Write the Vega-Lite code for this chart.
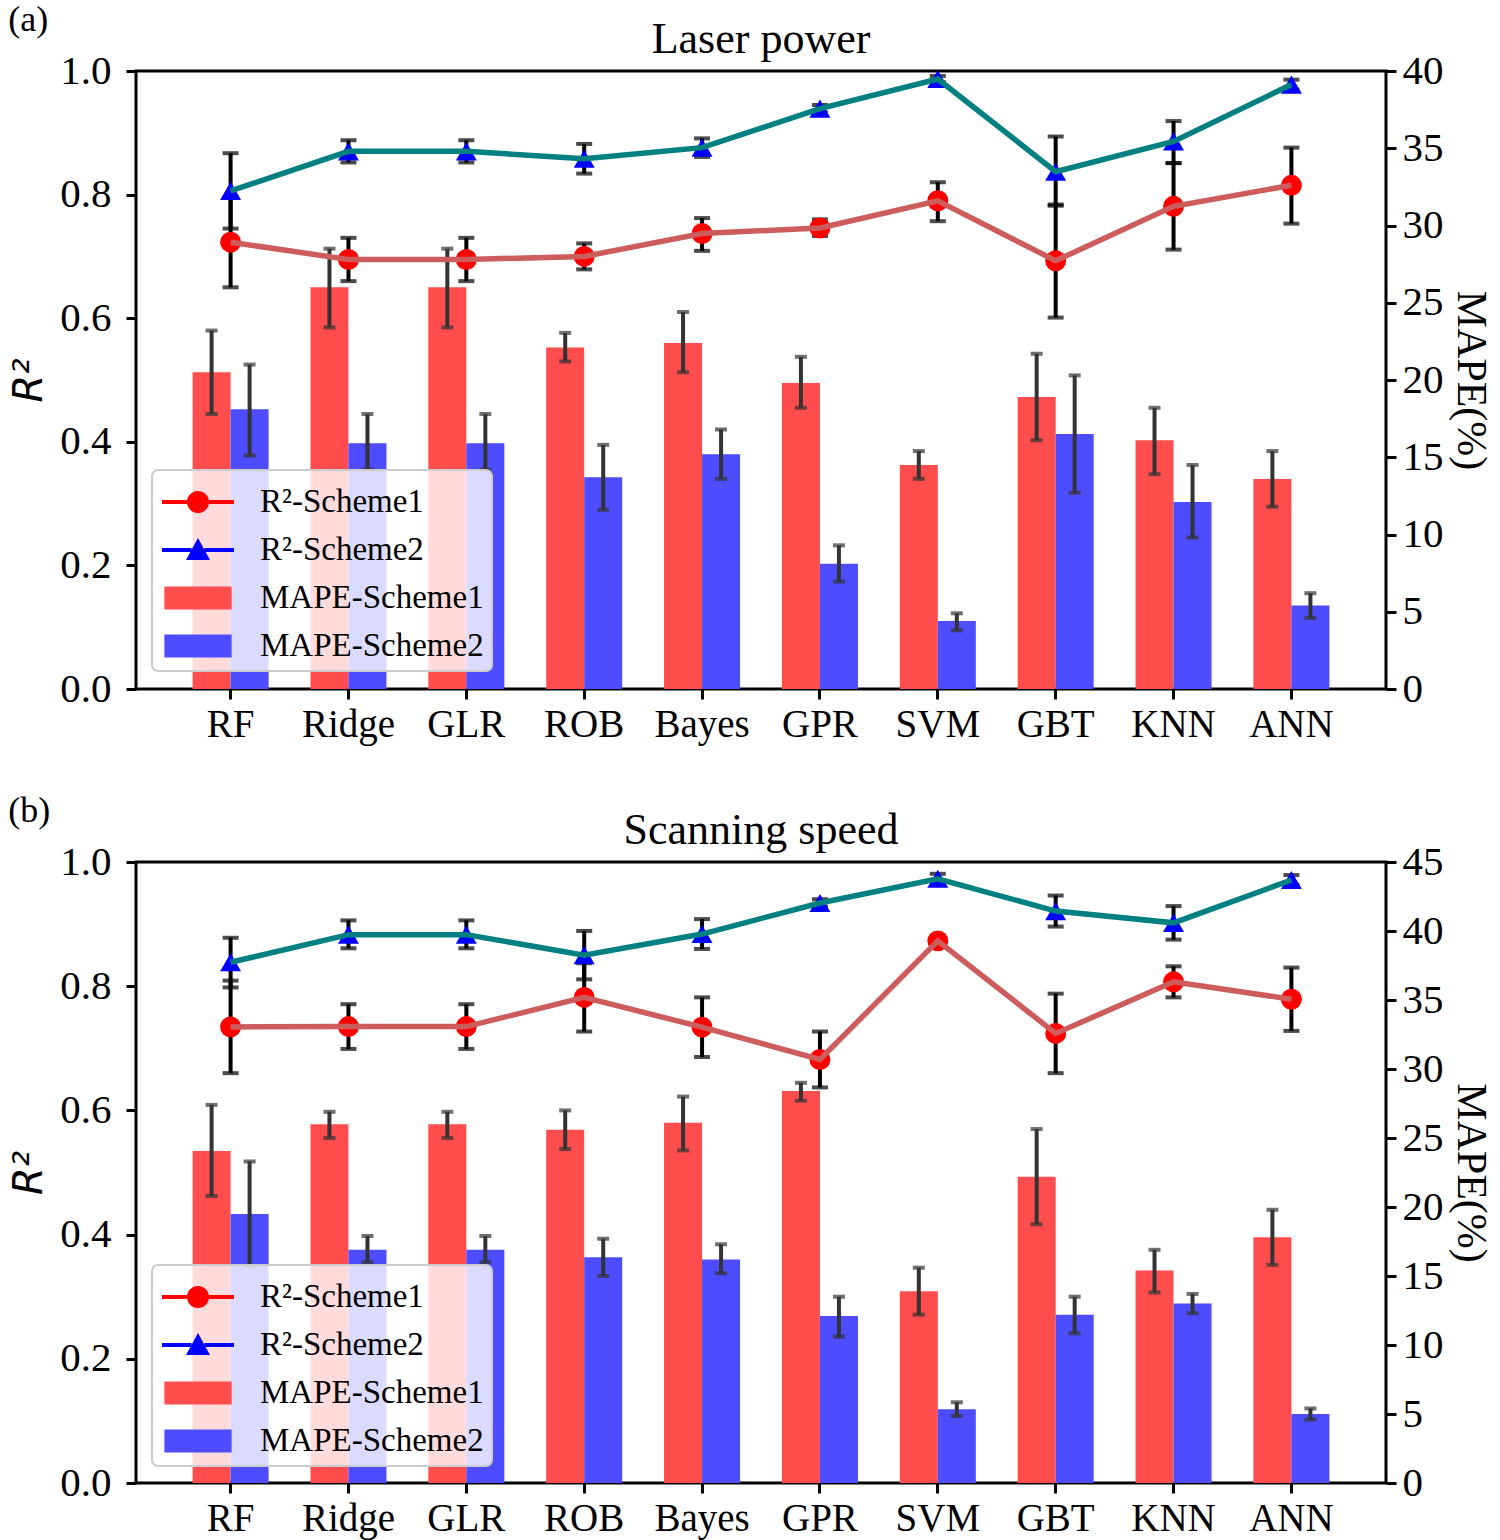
{
  "$schema": "https://vega.github.io/schema/vega-lite/v6.json",
  "background": "white",
  "padding": {"left": 8, "top": 1, "right": 0, "bottom": 0},
  "config": {
    "view": {"stroke": "black", "strokeWidth": 3},
    "font": "Liberation Serif",
    "axis": {"labelFont": "Liberation Serif", "labelFontSize": 39, "labelColor": "black", "tickColor": "black", "tickWidth": 3, "tickSize": 10, "labelPadding": 6, "grid": false, "domain": false, "titleFont": "Liberation Serif", "titleFontWeight": "normal", "titleColor": "black", "labelOverlap": false},
    "title": {"font": "Liberation Serif", "fontSize": 44, "fontWeight": "normal", "color": "black"},
    "legend": {
      "title": null, "orient": "none", "legendX": 16, "legendY": 399,
      "labelFont": "Liberation Serif", "labelFontSize": 33, "labelColor": "black", "labelLimit": 400,
      "symbolSize": 2304, "symbolStrokeWidth": 0, "symbolOpacity": 1, "symbolOffset": 14,
      "fillColor": "rgba(255,255,255,0.8)", "strokeColor": "#cccccc", "strokeWidth": 2, "cornerRadius": 6,
      "padding": 8, "rowPadding": 7, "labelOffset": 38
    }
  },
  "datasets": {
    "a": [
      {"model":"RF","scheme":"S1","r":"R²-Scheme1","m":"MAPE-Scheme1","r2":0.723,"r2lo":0.650,"r2hi":0.796,"mape":20.5,"mlo":17.8,"mhi":23.2},
      {"model":"RF","scheme":"S2","r":"R²-Scheme2","m":"MAPE-Scheme2","r2":0.806,"r2lo":0.745,"r2hi":0.867,"mape":18.1,"mlo":15.1,"mhi":21.0},
      {"model":"Ridge","scheme":"S1","r":"R²-Scheme1","m":"MAPE-Scheme1","r2":0.695,"r2lo":0.660,"r2hi":0.730,"mape":26.0,"mlo":23.4,"mhi":28.5},
      {"model":"Ridge","scheme":"S2","r":"R²-Scheme2","m":"MAPE-Scheme2","r2":0.870,"r2lo":0.852,"r2hi":0.888,"mape":15.9,"mlo":14.2,"mhi":17.8},
      {"model":"GLR","scheme":"S1","r":"R²-Scheme1","m":"MAPE-Scheme1","r2":0.695,"r2lo":0.660,"r2hi":0.730,"mape":26.0,"mlo":23.4,"mhi":28.5},
      {"model":"GLR","scheme":"S2","r":"R²-Scheme2","m":"MAPE-Scheme2","r2":0.870,"r2lo":0.852,"r2hi":0.888,"mape":15.9,"mlo":14.2,"mhi":17.8},
      {"model":"ROB","scheme":"S1","r":"R²-Scheme1","m":"MAPE-Scheme1","r2":0.700,"r2lo":0.679,"r2hi":0.721,"mape":22.1,"mlo":21.2,"mhi":23.05},
      {"model":"ROB","scheme":"S2","r":"R²-Scheme2","m":"MAPE-Scheme2","r2":0.858,"r2lo":0.834,"r2hi":0.882,"mape":13.7,"mlo":11.6,"mhi":15.8},
      {"model":"Bayes","scheme":"S1","r":"R²-Scheme1","m":"MAPE-Scheme1","r2":0.737,"r2lo":0.709,"r2hi":0.762,"mape":22.4,"mlo":20.5,"mhi":24.4},
      {"model":"Bayes","scheme":"S2","r":"R²-Scheme2","m":"MAPE-Scheme2","r2":0.876,"r2lo":0.861,"r2hi":0.891,"mape":15.2,"mlo":13.6,"mhi":16.8},
      {"model":"GPR","scheme":"S1","r":"R²-Scheme1","m":"MAPE-Scheme1","r2":0.746,"r2lo":0.733,"r2hi":0.760,"mape":19.8,"mlo":18.2,"mhi":21.5},
      {"model":"GPR","scheme":"S2","r":"R²-Scheme2","m":"MAPE-Scheme2","r2":0.939,"r2lo":0.933,"r2hi":0.945,"mape":8.1,"mlo":6.95,"mhi":9.3},
      {"model":"SVM","scheme":"S1","r":"R²-Scheme1","m":"MAPE-Scheme1","r2":0.790,"r2lo":0.757,"r2hi":0.820,"mape":14.5,"mlo":13.6,"mhi":15.4},
      {"model":"SVM","scheme":"S2","r":"R²-Scheme2","m":"MAPE-Scheme2","r2":0.987,"r2lo":0.982,"r2hi":0.992,"mape":4.4,"mlo":3.8,"mhi":4.9},
      {"model":"GBT","scheme":"S1","r":"R²-Scheme1","m":"MAPE-Scheme1","r2":0.693,"r2lo":0.601,"r2hi":0.784,"mape":18.9,"mlo":16.1,"mhi":21.7},
      {"model":"GBT","scheme":"S2","r":"R²-Scheme2","m":"MAPE-Scheme2","r2":0.837,"r2lo":0.782,"r2hi":0.894,"mape":16.5,"mlo":12.7,"mhi":20.3},
      {"model":"KNN","scheme":"S1","r":"R²-Scheme1","m":"MAPE-Scheme1","r2":0.781,"r2lo":0.711,"r2hi":0.851,"mape":16.1,"mlo":13.9,"mhi":18.2},
      {"model":"KNN","scheme":"S2","r":"R²-Scheme2","m":"MAPE-Scheme2","r2":0.886,"r2lo":0.851,"r2hi":0.919,"mape":12.1,"mlo":9.8,"mhi":14.5},
      {"model":"ANN","scheme":"S1","r":"R²-Scheme1","m":"MAPE-Scheme1","r2":0.815,"r2lo":0.753,"r2hi":0.876,"mape":13.6,"mlo":11.8,"mhi":15.4},
      {"model":"ANN","scheme":"S2","r":"R²-Scheme2","m":"MAPE-Scheme2","r2":0.978,"r2lo":0.970,"r2hi":0.986,"mape":5.4,"mlo":4.6,"mhi":6.2}
    ],
    "b": [
      {"model":"RF","scheme":"S1","r":"R²-Scheme1","m":"MAPE-Scheme1","r2":0.7345,"r2lo":0.660,"r2hi":0.809,"mape":24.05,"mlo":20.8,"mhi":27.4},
      {"model":"RF","scheme":"S2","r":"R²-Scheme2","m":"MAPE-Scheme2","r2":0.8385,"r2lo":0.798,"r2hi":0.878,"mape":19.5,"mlo":15.7,"mhi":23.3},
      {"model":"Ridge","scheme":"S1","r":"R²-Scheme1","m":"MAPE-Scheme1","r2":0.735,"r2lo":0.699,"r2hi":0.771,"mape":26.0,"mlo":25.0,"mhi":26.9},
      {"model":"Ridge","scheme":"S2","r":"R²-Scheme2","m":"MAPE-Scheme2","r2":0.883,"r2lo":0.861,"r2hi":0.906,"mape":16.9,"mlo":16.0,"mhi":17.9},
      {"model":"GLR","scheme":"S1","r":"R²-Scheme1","m":"MAPE-Scheme1","r2":0.735,"r2lo":0.699,"r2hi":0.771,"mape":26.0,"mlo":25.0,"mhi":26.9},
      {"model":"GLR","scheme":"S2","r":"R²-Scheme2","m":"MAPE-Scheme2","r2":0.883,"r2lo":0.861,"r2hi":0.906,"mape":16.9,"mlo":16.0,"mhi":17.9},
      {"model":"ROB","scheme":"S1","r":"R²-Scheme1","m":"MAPE-Scheme1","r2":0.782,"r2lo":0.727,"r2hi":0.837,"mape":25.6,"mlo":24.2,"mhi":27.0},
      {"model":"ROB","scheme":"S2","r":"R²-Scheme2","m":"MAPE-Scheme2","r2":0.850,"r2lo":0.811,"r2hi":0.889,"mape":16.35,"mlo":15.0,"mhi":17.7},
      {"model":"Bayes","scheme":"S1","r":"R²-Scheme1","m":"MAPE-Scheme1","r2":0.734,"r2lo":0.686,"r2hi":0.782,"mape":26.1,"mlo":24.1,"mhi":28.0},
      {"model":"Bayes","scheme":"S2","r":"R²-Scheme2","m":"MAPE-Scheme2","r2":0.884,"r2lo":0.860,"r2hi":0.908,"mape":16.2,"mlo":15.2,"mhi":17.3},
      {"model":"GPR","scheme":"S1","r":"R²-Scheme1","m":"MAPE-Scheme1","r2":0.682,"r2lo":0.637,"r2hi":0.727,"mape":28.4,"mlo":27.7,"mhi":29.0},
      {"model":"GPR","scheme":"S2","r":"R²-Scheme2","m":"MAPE-Scheme2","r2":0.934,"r2lo":0.928,"r2hi":0.940,"mape":12.1,"mlo":10.6,"mhi":13.5},
      {"model":"SVM","scheme":"S1","r":"R²-Scheme1","m":"MAPE-Scheme1","r2":0.873,"r2lo":0.865,"r2hi":0.881,"mape":13.9,"mlo":12.2,"mhi":15.6},
      {"model":"SVM","scheme":"S2","r":"R²-Scheme2","m":"MAPE-Scheme2","r2":0.973,"r2lo":0.965,"r2hi":0.981,"mape":5.35,"mlo":4.85,"mhi":5.85},
      {"model":"GBT","scheme":"S1","r":"R²-Scheme1","m":"MAPE-Scheme1","r2":0.724,"r2lo":0.660,"r2hi":0.788,"mape":22.2,"mlo":18.75,"mhi":25.65},
      {"model":"GBT","scheme":"S2","r":"R²-Scheme2","m":"MAPE-Scheme2","r2":0.921,"r2lo":0.896,"r2hi":0.946,"mape":12.2,"mlo":10.85,"mhi":13.5},
      {"model":"KNN","scheme":"S1","r":"R²-Scheme1","m":"MAPE-Scheme1","r2":0.807,"r2lo":0.782,"r2hi":0.832,"mape":15.4,"mlo":13.8,"mhi":16.9},
      {"model":"KNN","scheme":"S2","r":"R²-Scheme2","m":"MAPE-Scheme2","r2":0.902,"r2lo":0.875,"r2hi":0.929,"mape":13.0,"mlo":12.3,"mhi":13.7},
      {"model":"ANN","scheme":"S1","r":"R²-Scheme1","m":"MAPE-Scheme1","r2":0.779,"r2lo":0.728,"r2hi":0.830,"mape":17.8,"mlo":15.8,"mhi":19.8},
      {"model":"ANN","scheme":"S2","r":"R²-Scheme2","m":"MAPE-Scheme2","r2":0.971,"r2lo":0.963,"r2hi":0.979,"mape":5.0,"mlo":4.6,"mhi":5.4}
    ]
  },
  "spacing": 46,
  "resolve": {"scale": {"color": "independent"}, "legend": {"color": "independent"}},
  "vconcat": [
    {
      "title": {"text": "(a)", "anchor": "start", "frame": "bounds", "fontSize": 36, "offset": -22},
      "vconcat": [
        {
          "title": {"text": "Laser power", "offset": -12},
          "width": 1250, "height": 618,
          "data": {"name": "a"},
          "encoding": {
            "x": {"field": "model", "type": "nominal", "title": null,
                  "scale": {"domain": ["RF","Ridge","GLR","ROB","Bayes","GPR","SVM","GBT","KNN","ANN"], "paddingInner": 0.355, "paddingOuter": 0.48},
                  "axis": {"labelAngle": 0, "bandPosition": 0.5, "labelPadding": 6}}
          },
          "resolve": {"scale": {"y": "independent"}},
          "layer": [
            {
              "encoding": {"xOffset": {"field": "scheme", "type": "nominal", "scale": {"domain": ["S1","S2"], "paddingInner": 0, "paddingOuter": 0}}},
              "layer": [
                {"mark": {"type": "bar", "opacity": 1},
                 "encoding": {
                   "y": {"field": "mape", "type": "quantitative", "scale": {"domain": [0, 40], "nice": false}, "axis": {"orient": "right", "values": [0,5,10,15,20,25,30,35,40], "title": "MAPE(%)", "titleFontSize": 42, "titlePadding": 5, "labelFontSize": 41}},
                   "color": {"field": "m", "type": "nominal", "scale": {"domain": ["R²-Scheme1","R²-Scheme2","MAPE-Scheme1","MAPE-Scheme2"], "range": ["#ff0000","#0000ff","#ff4d4d","#4d4dff"]},
                     "legend": {"encode": {"symbols": {"update": {"shape": {"signal": "datum.value === 'R²-Scheme1' ? 'M-1.5,-0.083H-0.46V0.083H-1.5Z M0.46,-0.083H1.5V0.083H0.46Z M0.46,0A0.46,0.46,0,1,1,-0.46,0A0.46,0.46,0,1,1,0.46,0Z' : datum.value === 'R²-Scheme2' ? 'M-1.5,-0.083H-0.27V0.083H-1.5Z M0.27,-0.083H1.5V0.083H0.27Z M0,-0.5L0.5,0.42L-0.5,0.42Z' : 'M-1.4,-0.48H1.4V0.48H-1.4Z'"}}}}}}
                 }},
                {"mark": {"type": "rule", "color": "#333333", "strokeWidth": 4},
                 "encoding": {"y": {"field": "mlo", "type": "quantitative"}, "y2": {"field": "mhi"}}},
                {"mark": {"type": "tick", "color": "#333333", "thickness": 4, "size": 12},
                 "encoding": {"y": {"field": "mlo", "type": "quantitative"}}},
                {"mark": {"type": "tick", "color": "#333333", "thickness": 4, "size": 12},
                 "encoding": {"y": {"field": "mhi", "type": "quantitative"}}}
              ]
            },
            {
              "layer": [
                {"mark": {"type": "rule", "color": "black", "strokeWidth": 4},
                 "encoding": {
                   "y": {"field": "r2lo", "type": "quantitative", "scale": {"domain": [0, 1], "nice": false}, "axis": {"orient": "left", "values": [0,0.2,0.4,0.6,0.8,1.0], "format": ".1f", "title": "R²", "titleFont": "DejaVu Sans", "titleFontStyle": "italic", "titleFontSize": 40, "titlePadding": 10, "labelPadding": 15, "labelFontSize": 41}},
                   "y2": {"field": "r2hi"}}},
                {"mark": {"type": "tick", "color": "black", "thickness": 4, "size": 16},
                 "encoding": {"y": {"field": "r2lo", "type": "quantitative"}}},
                {"mark": {"type": "tick", "color": "black", "thickness": 4, "size": 16},
                 "encoding": {"y": {"field": "r2hi", "type": "quantitative"}}},
                {"mark": {"type": "point", "filled": true, "opacity": 1, "size": 440},
                 "encoding": {
                   "y": {"field": "r2", "type": "quantitative"},
                   "color": {"field": "r", "type": "nominal"},
                   "shape": {"field": "scheme", "type": "nominal", "scale": {"domain": ["S1","S2"], "range": ["circle","triangle-up"]}, "legend": null}}},
                {"mark": {"type": "line", "strokeWidth": 5.5},
                 "encoding": {
                   "y": {"field": "r2", "type": "quantitative"},
                   "stroke": {"field": "scheme", "type": "nominal", "scale": {"domain": ["S1","S2"], "range": ["#cd5c5c","#008080"]}, "legend": null}}}
              ]
            }
          ]
        }
      ]
    },
    {
      "title": {"text": "(b)", "anchor": "start", "frame": "bounds", "fontSize": 36, "offset": -22},
      "vconcat": [
        {
          "title": {"text": "Scanning speed", "offset": -12},
          "width": 1250, "height": 621,
          "data": {"name": "b"},
          "encoding": {
            "x": {"field": "model", "type": "nominal", "title": null,
                  "scale": {"domain": ["RF","Ridge","GLR","ROB","Bayes","GPR","SVM","GBT","KNN","ANN"], "paddingInner": 0.355, "paddingOuter": 0.48},
                  "axis": {"labelAngle": 0, "bandPosition": 0.5, "labelPadding": 6}}
          },
          "resolve": {"scale": {"y": "independent"}},
          "layer": [
            {
              "encoding": {"xOffset": {"field": "scheme", "type": "nominal", "scale": {"domain": ["S1","S2"], "paddingInner": 0, "paddingOuter": 0}}},
              "layer": [
                {"mark": {"type": "bar", "opacity": 1},
                 "encoding": {
                   "y": {"field": "mape", "type": "quantitative", "scale": {"domain": [0, 45], "nice": false}, "axis": {"orient": "right", "values": [0,5,10,15,20,25,30,35,40,45], "title": "MAPE(%)", "titleFontSize": 42, "titlePadding": 5, "labelFontSize": 41}},
                   "color": {"field": "m", "type": "nominal", "scale": {"domain": ["R²-Scheme1","R²-Scheme2","MAPE-Scheme1","MAPE-Scheme2"], "range": ["#ff0000","#0000ff","#ff4d4d","#4d4dff"]},
                     "legend": {"legendY": 403, "encode": {"symbols": {"update": {"shape": {"signal": "datum.value === 'R²-Scheme1' ? 'M-1.5,-0.083H-0.46V0.083H-1.5Z M0.46,-0.083H1.5V0.083H0.46Z M0.46,0A0.46,0.46,0,1,1,-0.46,0A0.46,0.46,0,1,1,0.46,0Z' : datum.value === 'R²-Scheme2' ? 'M-1.5,-0.083H-0.27V0.083H-1.5Z M0.27,-0.083H1.5V0.083H0.27Z M0,-0.5L0.5,0.42L-0.5,0.42Z' : 'M-1.4,-0.48H1.4V0.48H-1.4Z'"}}}}}}
                 }},
                {"mark": {"type": "rule", "color": "#333333", "strokeWidth": 4},
                 "encoding": {"y": {"field": "mlo", "type": "quantitative"}, "y2": {"field": "mhi"}}},
                {"mark": {"type": "tick", "color": "#333333", "thickness": 4, "size": 12},
                 "encoding": {"y": {"field": "mlo", "type": "quantitative"}}},
                {"mark": {"type": "tick", "color": "#333333", "thickness": 4, "size": 12},
                 "encoding": {"y": {"field": "mhi", "type": "quantitative"}}}
              ]
            },
            {
              "layer": [
                {"mark": {"type": "rule", "color": "black", "strokeWidth": 4},
                 "encoding": {
                   "y": {"field": "r2lo", "type": "quantitative", "scale": {"domain": [0, 1], "nice": false}, "axis": {"orient": "left", "values": [0,0.2,0.4,0.6,0.8,1.0], "format": ".1f", "title": "R²", "titleFont": "DejaVu Sans", "titleFontStyle": "italic", "titleFontSize": 40, "titlePadding": 10, "labelPadding": 15, "labelFontSize": 41}},
                   "y2": {"field": "r2hi"}}},
                {"mark": {"type": "tick", "color": "black", "thickness": 4, "size": 16},
                 "encoding": {"y": {"field": "r2lo", "type": "quantitative"}}},
                {"mark": {"type": "tick", "color": "black", "thickness": 4, "size": 16},
                 "encoding": {"y": {"field": "r2hi", "type": "quantitative"}}},
                {"mark": {"type": "point", "filled": true, "opacity": 1, "size": 440},
                 "encoding": {
                   "y": {"field": "r2", "type": "quantitative"},
                   "color": {"field": "r", "type": "nominal"},
                   "shape": {"field": "scheme", "type": "nominal", "scale": {"domain": ["S1","S2"], "range": ["circle","triangle-up"]}, "legend": null}}},
                {"mark": {"type": "line", "strokeWidth": 5.5},
                 "encoding": {
                   "y": {"field": "r2", "type": "quantitative"},
                   "stroke": {"field": "scheme", "type": "nominal", "scale": {"domain": ["S1","S2"], "range": ["#cd5c5c","#008080"]}, "legend": null}}}
              ]
            }
          ]
        }
      ]
    }
  ]
}
